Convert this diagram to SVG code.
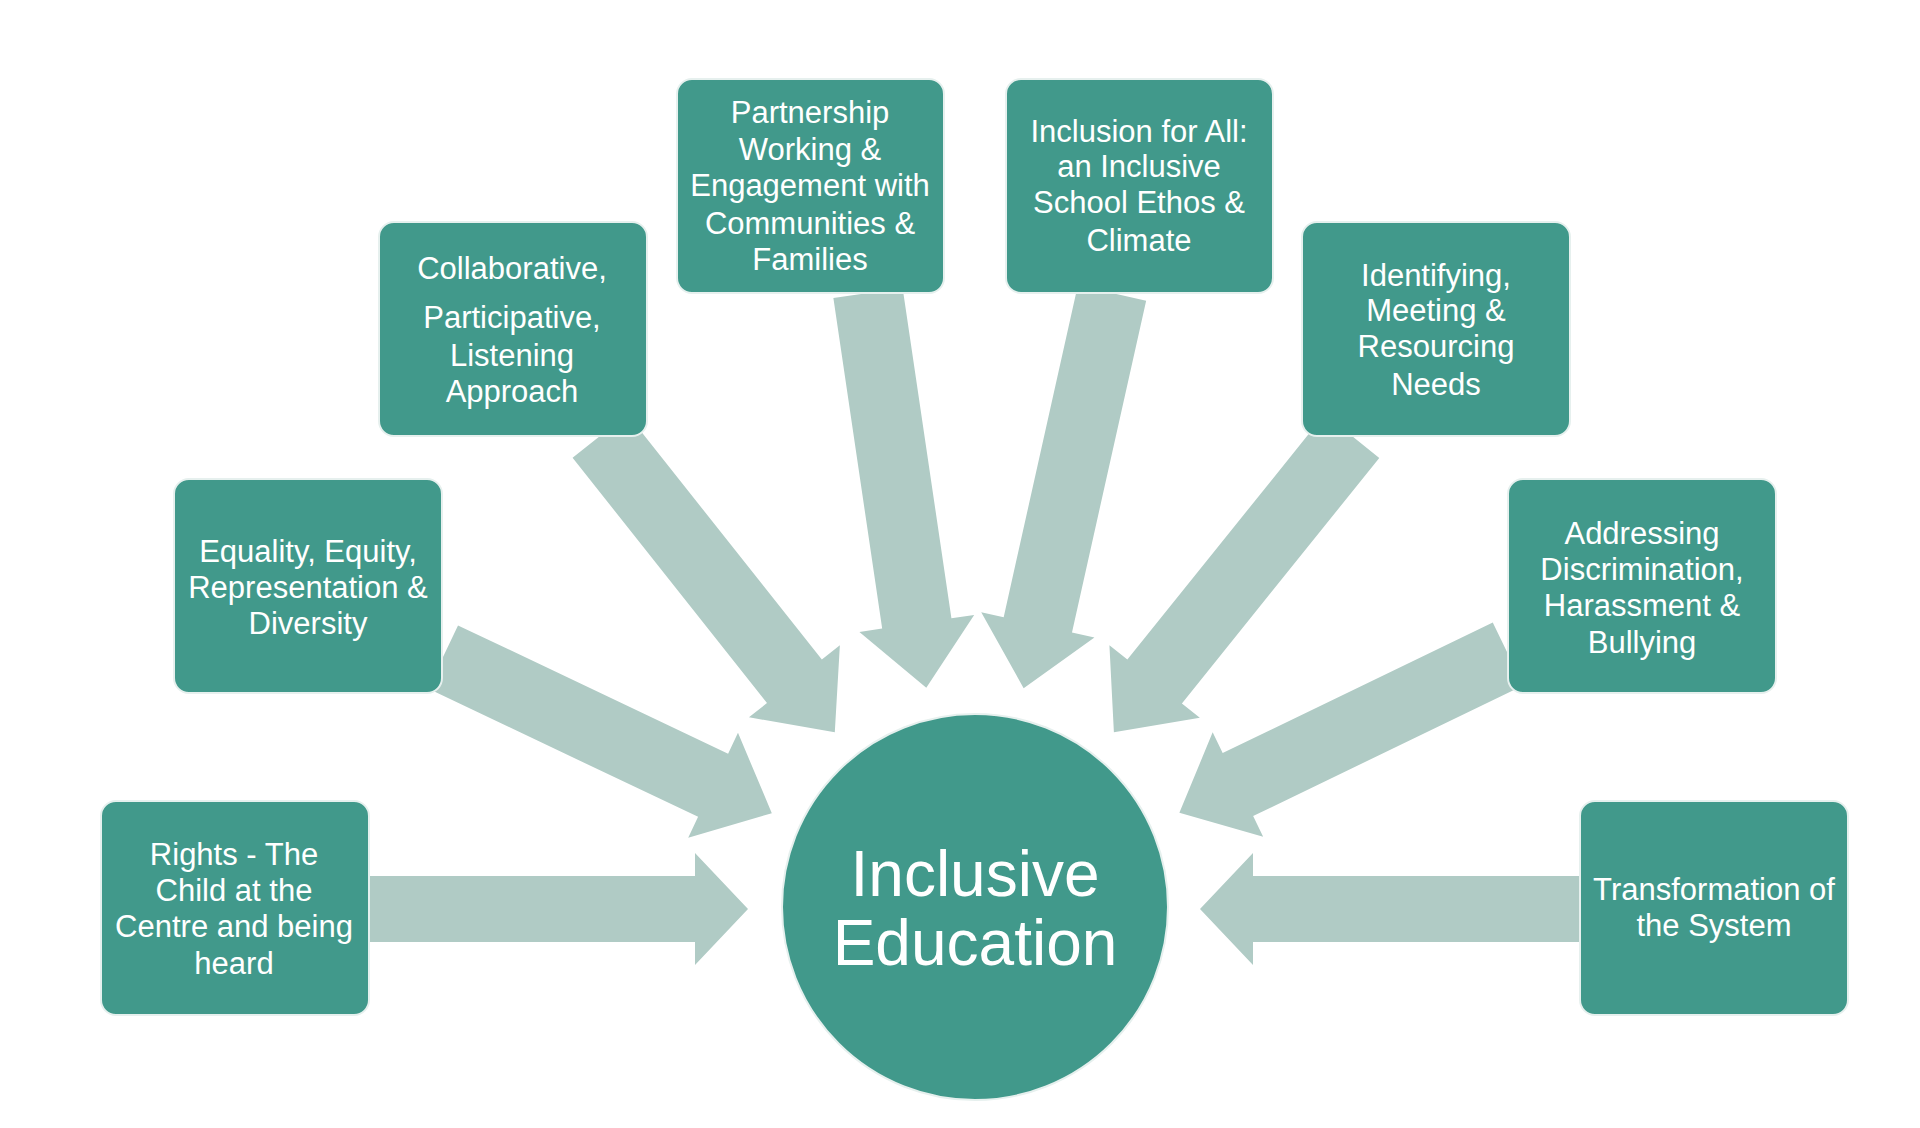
<svg xmlns="http://www.w3.org/2000/svg" width="1920" height="1128" viewBox="0 0 1920 1128">
<style>
.box{fill:#41998b;stroke:#e6f0ee;stroke-width:2}
.arr{fill:#b0cbc5}
text{fill:#fff;font-family:"Liberation Sans",Arial,sans-serif;font-size:31px;text-anchor:middle}
.big{font-size:64px}
</style>
<rect width="1920" height="1128" fill="#fff"/>
<g id="connectors">
<path class="arr" transform="translate(369,909)" d="M0,-33 H326 V-56 L379,0 L326,56 V33 H0 Z"/>
<path class="arr" transform="translate(443,657) rotate(25.4)" d="M0,-35 H299 V-58 L364,0 L299,58 V35 H0 Z"/>
<path class="arr" transform="translate(600,436) rotate(51.6)" d="M0,-35 H313 V-58 L378,0 L313,58 V35 H0 Z"/>
<path class="arr" transform="translate(868,293) rotate(81.6)" d="M0,-35 H334 V-58 L399,0 L334,58 V35 H0 Z"/>
<path class="arr" transform="translate(1112,293) rotate(102.6)" d="M0,-35 H340 V-58 L405,0 L340,58 V35 H0 Z"/>
<path class="arr" transform="translate(1352,436) rotate(128.8)" d="M0,-35 H315 V-58 L380,0 L315,58 V35 H0 Z"/>
<path class="arr" transform="translate(1508,654) rotate(154.2)" d="M0,-35 H300 V-58 L365,0 L300,58 V35 H0 Z"/>
<path class="arr" transform="translate(1580,909) rotate(180)" d="M0,-33 H327 V-56 L380,0 L327,56 V33 H0 Z"/>
</g>
<g id="center"><circle cx="975" cy="907" r="193" fill="#41998b" stroke="#e6f0ee" stroke-width="2"/>
<text class="big" x="975" y="896">Inclusive</text><text class="big" x="975" y="965">Education</text></g>
<g id="n1"><rect class="box" x="101" y="801" width="268" height="214" rx="15"/>
<text x="234" y="865">Rights  - The</text><text x="234" y="901">Child at the</text><text x="234" y="937">Centre and being</text><text x="234" y="974">heard</text></g>
<g id="n2"><rect class="box" x="174" y="479" width="268" height="214" rx="15"/>
<text x="308" y="562">Equality, Equity,</text><text x="308" y="598">Representation &amp;</text><text x="308" y="634">Diversity</text></g>
<g id="n3"><rect class="box" x="379" y="222" width="268" height="214" rx="15"/>
<text x="512" y="279">Collaborative,</text><text x="512" y="328">Participative,</text><text x="512" y="366">Listening</text><text x="512" y="402">Approach</text></g>
<g id="n4"><rect class="box" x="677" y="79" width="267" height="214" rx="15"/>
<text x="810" y="123">Partnership</text><text x="810" y="160">Working &amp;</text><text x="810" y="196">Engagement with</text><text x="810" y="234">Communities &amp;</text><text x="810" y="270">Families</text></g>
<g id="n5"><rect class="box" x="1006" y="79" width="267" height="214" rx="15"/>
<text x="1139" y="142">Inclusion for All:</text><text x="1139" y="177">an Inclusive</text><text x="1139" y="213">School Ethos &amp;</text><text x="1139" y="251">Climate</text></g>
<g id="n6"><rect class="box" x="1302" y="222" width="268" height="214" rx="15"/>
<text x="1436" y="286">Identifying,</text><text x="1436" y="321">Meeting &amp;</text><text x="1436" y="357">Resourcing</text><text x="1436" y="395">Needs</text></g>
<g id="n7"><rect class="box" x="1508" y="479" width="268" height="214" rx="15"/>
<text x="1642" y="544">Addressing</text><text x="1642" y="580">Discrimination,</text><text x="1642" y="616">Harassment &amp;</text><text x="1642" y="653">Bullying</text></g>
<g id="n8"><rect class="box" x="1580" y="801" width="268" height="214" rx="15"/>
<text x="1714" y="900">Transformation of</text><text x="1714" y="936">the System</text></g>
</svg>
